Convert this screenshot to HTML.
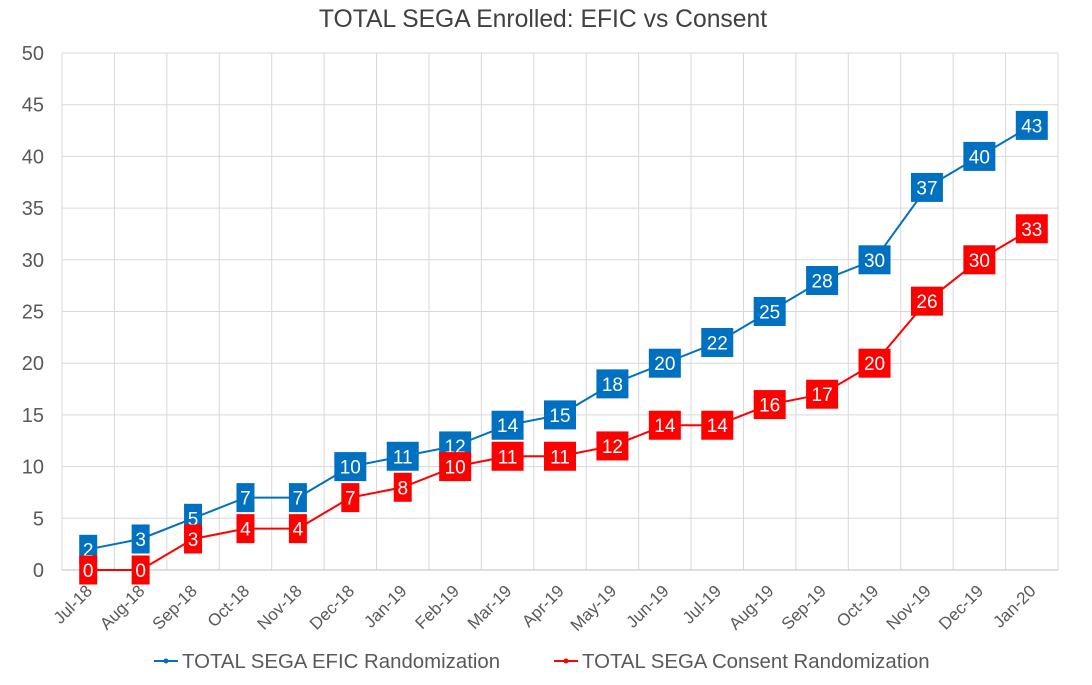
<!DOCTYPE html>
<html><head><style>
body{margin:0;background:#fff;width:1092px;height:680px;overflow:hidden;font-family:"Liberation Sans",Arial,sans-serif}
</style></head><body>
<svg id="c" width="1092" height="680" xmlns="http://www.w3.org/2000/svg" font-family="Liberation Sans, Arial, sans-serif"></svg>
<script>
const s=document.getElementById('c');
const L=62,R=1058,T=53,B=570,n=19,w=(R-L)/n;
const X=i=>L+w*(i+0.5), Y=v=>B-(B-T)*v/50;
const cats=["Jul-18","Aug-18","Sep-18","Oct-18","Nov-18","Dec-18","Jan-19","Feb-19","Mar-19","Apr-19","May-19","Jun-19","Jul-19","Aug-19","Sep-19","Oct-19","Nov-19","Dec-19","Jan-20"];
const b=[2,3,5,7,7,10,11,12,14,15,18,20,22,25,28,30,37,40,43];
const r=[0,0,3,4,4,7,8,10,11,11,12,14,14,16,17,20,26,30,33];
let h='<text x="543" y="27" text-anchor="middle" font-size="24.7" fill="#404040">TOTAL SEGA Enrolled: EFIC vs Consent</text>';
for(let v=0;v<=50;v+=5){const y=Y(v);h+=`<line x1="${L}" x2="${R}" y1="${y}" y2="${y}" stroke="#d9d9d9"/><text x="44" y="${y+7}" text-anchor="end" font-size="20" fill="#595959">${v}</text>`;}
for(let i=0;i<=n;i++){const x=L+w*i;h+=`<line x1="${x}" x2="${x}" y1="${T}" y2="${B}" stroke="#d9d9d9"/>`;}
h+=`<line x1="${L}" x2="${R}" y1="${B}" y2="${B}" stroke="#bfbfbf"/>`;
cats.forEach((c,i)=>{const x=X(i)+5,y=B+22;h+=`<text transform="translate(${x},${y}) rotate(-45)" text-anchor="end" font-size="17" fill="#595959">${c}</text>`;});
function ser(d,col){let p=d.map((v,i)=>`${X(i)},${Y(v)}`).join(' ');h+=`<polyline points="${p}" fill="none" stroke="${col}" stroke-width="2"/>`;}
function lab(d,col){d.forEach((v,i)=>{const bw=v>=10?32:18,x=X(i),y=Y(v);h+=`<rect x="${x-bw/2}" y="${y-14.5}" width="${bw}" height="29" fill="${col}"/><text x="${x}" y="${y+7}" text-anchor="middle" font-size="19" fill="#fff">${v}</text>`;});}
ser(b,"#0070c0");ser(r,"#ff0000");lab(b,"#0070c0");lab(r,"#ff0000");
h+=`<line x1="154" x2="178" y1="661" y2="661" stroke="#0070c0" stroke-width="2"/><circle cx="166" cy="661" r="2.5" fill="#0070c0"/><text x="182" y="668" font-size="20.4" fill="#595959">TOTAL SEGA EFIC Randomization</text>`;
h+=`<line x1="554" x2="578" y1="661" y2="661" stroke="#ff0000" stroke-width="2"/><circle cx="566" cy="661" r="2.5" fill="#ff0000"/><text x="582" y="668" font-size="20.4" fill="#595959">TOTAL SEGA Consent Randomization</text>`;
s.innerHTML=h;
</script>
</body></html>
